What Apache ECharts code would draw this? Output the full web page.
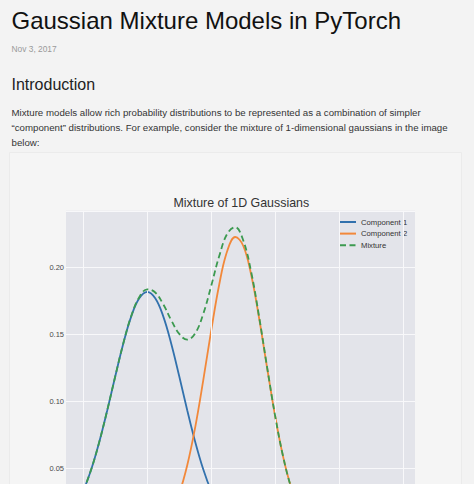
<!DOCTYPE html>
<html>
<head>
<meta charset="utf-8">
<script src="https://cdn.jsdelivr.net/npm/echarts@6/dist/echarts.min.js"></script>
<style>
html,body{margin:0;padding:0;background:#f3f3f3;overflow:hidden}
#c{width:474px;height:560px}
</style>
</head>
<body>
<div id="c"></div>
<script>
// ---- page texts ----
const pageTitle = 'Gaussian Mixture Models in PyTorch';
const pageDate = 'Nov 3, 2017';
const sectionTitle = 'Introduction';
const paragraphLines = [
  'Mixture models allow rich probability distributions to be represented as a combination of simpler',
  '\u201Ccomponent\u201D distributions. For example, consider the mixture of 1-dimensional gaussians in the image',
  'below:'
];
const chartTitle = 'Mixture of 1D Gaussians';

// ---- chart data ----
const seriesNames = ['Component 1', 'Component 2', 'Mixture'];
const xValues = [-4,-3.75,-3.5,-3.25,-3,-2.75,-2.5,-2.25,-2,-1.75,-1.5,-1.25,-1,-0.75,-0.5,-0.25,0,
  0.25,0.5,0.75,1,1.25,1.5,1.75,2,2.25,2.5,2.75,3,3.25,3.5,3.75,4,4.25,4.5,4.75,5,5.25,5.5,5.75,6];
const component1 = [0.0333,0.0496,0.0700,0.0937,0.1190,0.1433,0.1637,0.1772,0.1820,0.1772,0.1637,0.1433,0.1190,0.0937,0.0700,0.0496,0.0333,
  0.0212,0.0128,0.0073,0.0040,0.0021,0.0010,0.0005,0.0002,0.0001,0,0,0,0,0,0,0,0,0,0,0,0,0,0,0];
const component2 = [0,0,0,0,0,0.0001,0.0003,0.0008,0.0019,0.0043,0.0090,0.0175,0.0316,0.0526,0.0811,0.1159,0.1532,
  0.1875,0.2125,0.2229,0.2164,0.1946,0.1619,0.1248,0.0890,0.0587,0.0359,0.0203,0.0106,0.0052,0.0023,0.0010,0.0004,0.0001,0,0,0,0,0,0,0];
const mixture = [0.0333,0.0496,0.0700,0.0937,0.1190,0.1434,0.1640,0.1780,0.1839,0.1815,0.1727,0.1608,0.1506,0.1463,0.1511,0.1655,0.1865,
  0.2087,0.2253,0.2302,0.2204,0.1967,0.1629,0.1253,0.0892,0.0588,0.0359,0.0203,0.0106,0.0052,0.0023,0.0010,0.0004,0.0001,0,0,0,0,0,0,0];
const xGridValues = [-4,-2,0,2,4,6];

const FONT = '"Liberation Sans", Arial, Helvetica, sans-serif';
const colors = ['#3271ad', '#f2883a', '#3c9a50'];

const pair = arr => xValues.map((x, i) => [x, arr[i]]);

const chart = echarts.init(document.getElementById('c'), null, {renderer: 'svg'});
const textEl = (text, x, y, size, fill, align) => ({
  type: 'text', silent: true, z: 10,
  style: {text: text, x: x, y: y, font: size + 'px ' + FONT, fill: fill,
          align: align || 'left', verticalAlign: 'middle'}
});

const graphics = [
  {type: 'rect', silent: true, z: -10,
   shape: {x: 9.5, y: 152.5, width: 452, height: 400},
   style: {fill: '#f5f5f5', stroke: '#ebebeb', lineWidth: 1}},
  textEl(pageTitle, 11.5, 20.5, 24, '#111111'),
  textEl(pageDate, 11.5, 48.7, 8.4, '#9a9a9a'),
  textEl(sectionTitle, 11.5, 84.5, 16, '#222222'),
  textEl(chartTitle, 241.3, 203.3, 12.4, '#333333', 'center')
];
paragraphLines.forEach((line, i) => graphics.push(textEl(line, 11.5, 112.7 + i * 15, 9.7, '#333333')));

const lineSeries = seriesNames.map((name, i) => ({
  type: 'line',
  name: name,
  data: pair([component1, component2, mixture][i]),
  symbol: 'none',
  showSymbol: false,
  smooth: 0.4,
  z: 3 + i,
  clip: true,
  itemStyle: {color: colors[i]},
  lineStyle: {color: colors[i], width: 1.8, type: i === 2 ? [6, 3.5] : 'solid'}
}));

const option = {
  backgroundColor: '#f3f3f3',
  animation: false,
  textStyle: {fontFamily: FONT},
  graphic: graphics,
  grid: {left: 66, top: 210.75, width: 349, height: 325, show: true,
         backgroundColor: '#e3e4ea', borderWidth: 0},
  xAxis: {type: 'value', min: -4.54, max: 6.37,
          axisLine: {show: false}, axisTick: {show: false},
          axisLabel: {show: false}, splitLine: {show: false}},
  yAxis: {type: 'value', min: 0, max: 0.2425, interval: 0.05,
          axisLine: {show: false}, axisTick: {show: false},
          axisLabel: {margin: 2, fontSize: 7.5, color: '#4a4a4a', fontFamily: FONT,
                      showMaxLabel: false, showMinLabel: false,
                      formatter: v => v.toFixed(2)},
          splitLine: {lineStyle: {color: '#f8f8fa', width: 1}}},
  legend: {data: seriesNames, orient: 'vertical', left: 339, top: 218, padding: 0,
           itemWidth: 16, itemHeight: 8, itemGap: 3.6,
           itemStyle: {opacity: 0},
           textStyle: {fontSize: 7.7, color: '#333333', fontFamily: FONT}},
  series: [
    {type: 'line', name: 'gridlines', data: [], z: 1, silent: true,
     markLine: {silent: true, symbol: ['none', 'none'], label: {show: false},
                lineStyle: {color: '#f8f8fa', width: 1, type: 'solid'},
                data: xGridValues.map(v => ({xAxis: v}))}}
  ].concat(lineSeries)
};
chart.setOption(option);
</script>
</body>
</html>
